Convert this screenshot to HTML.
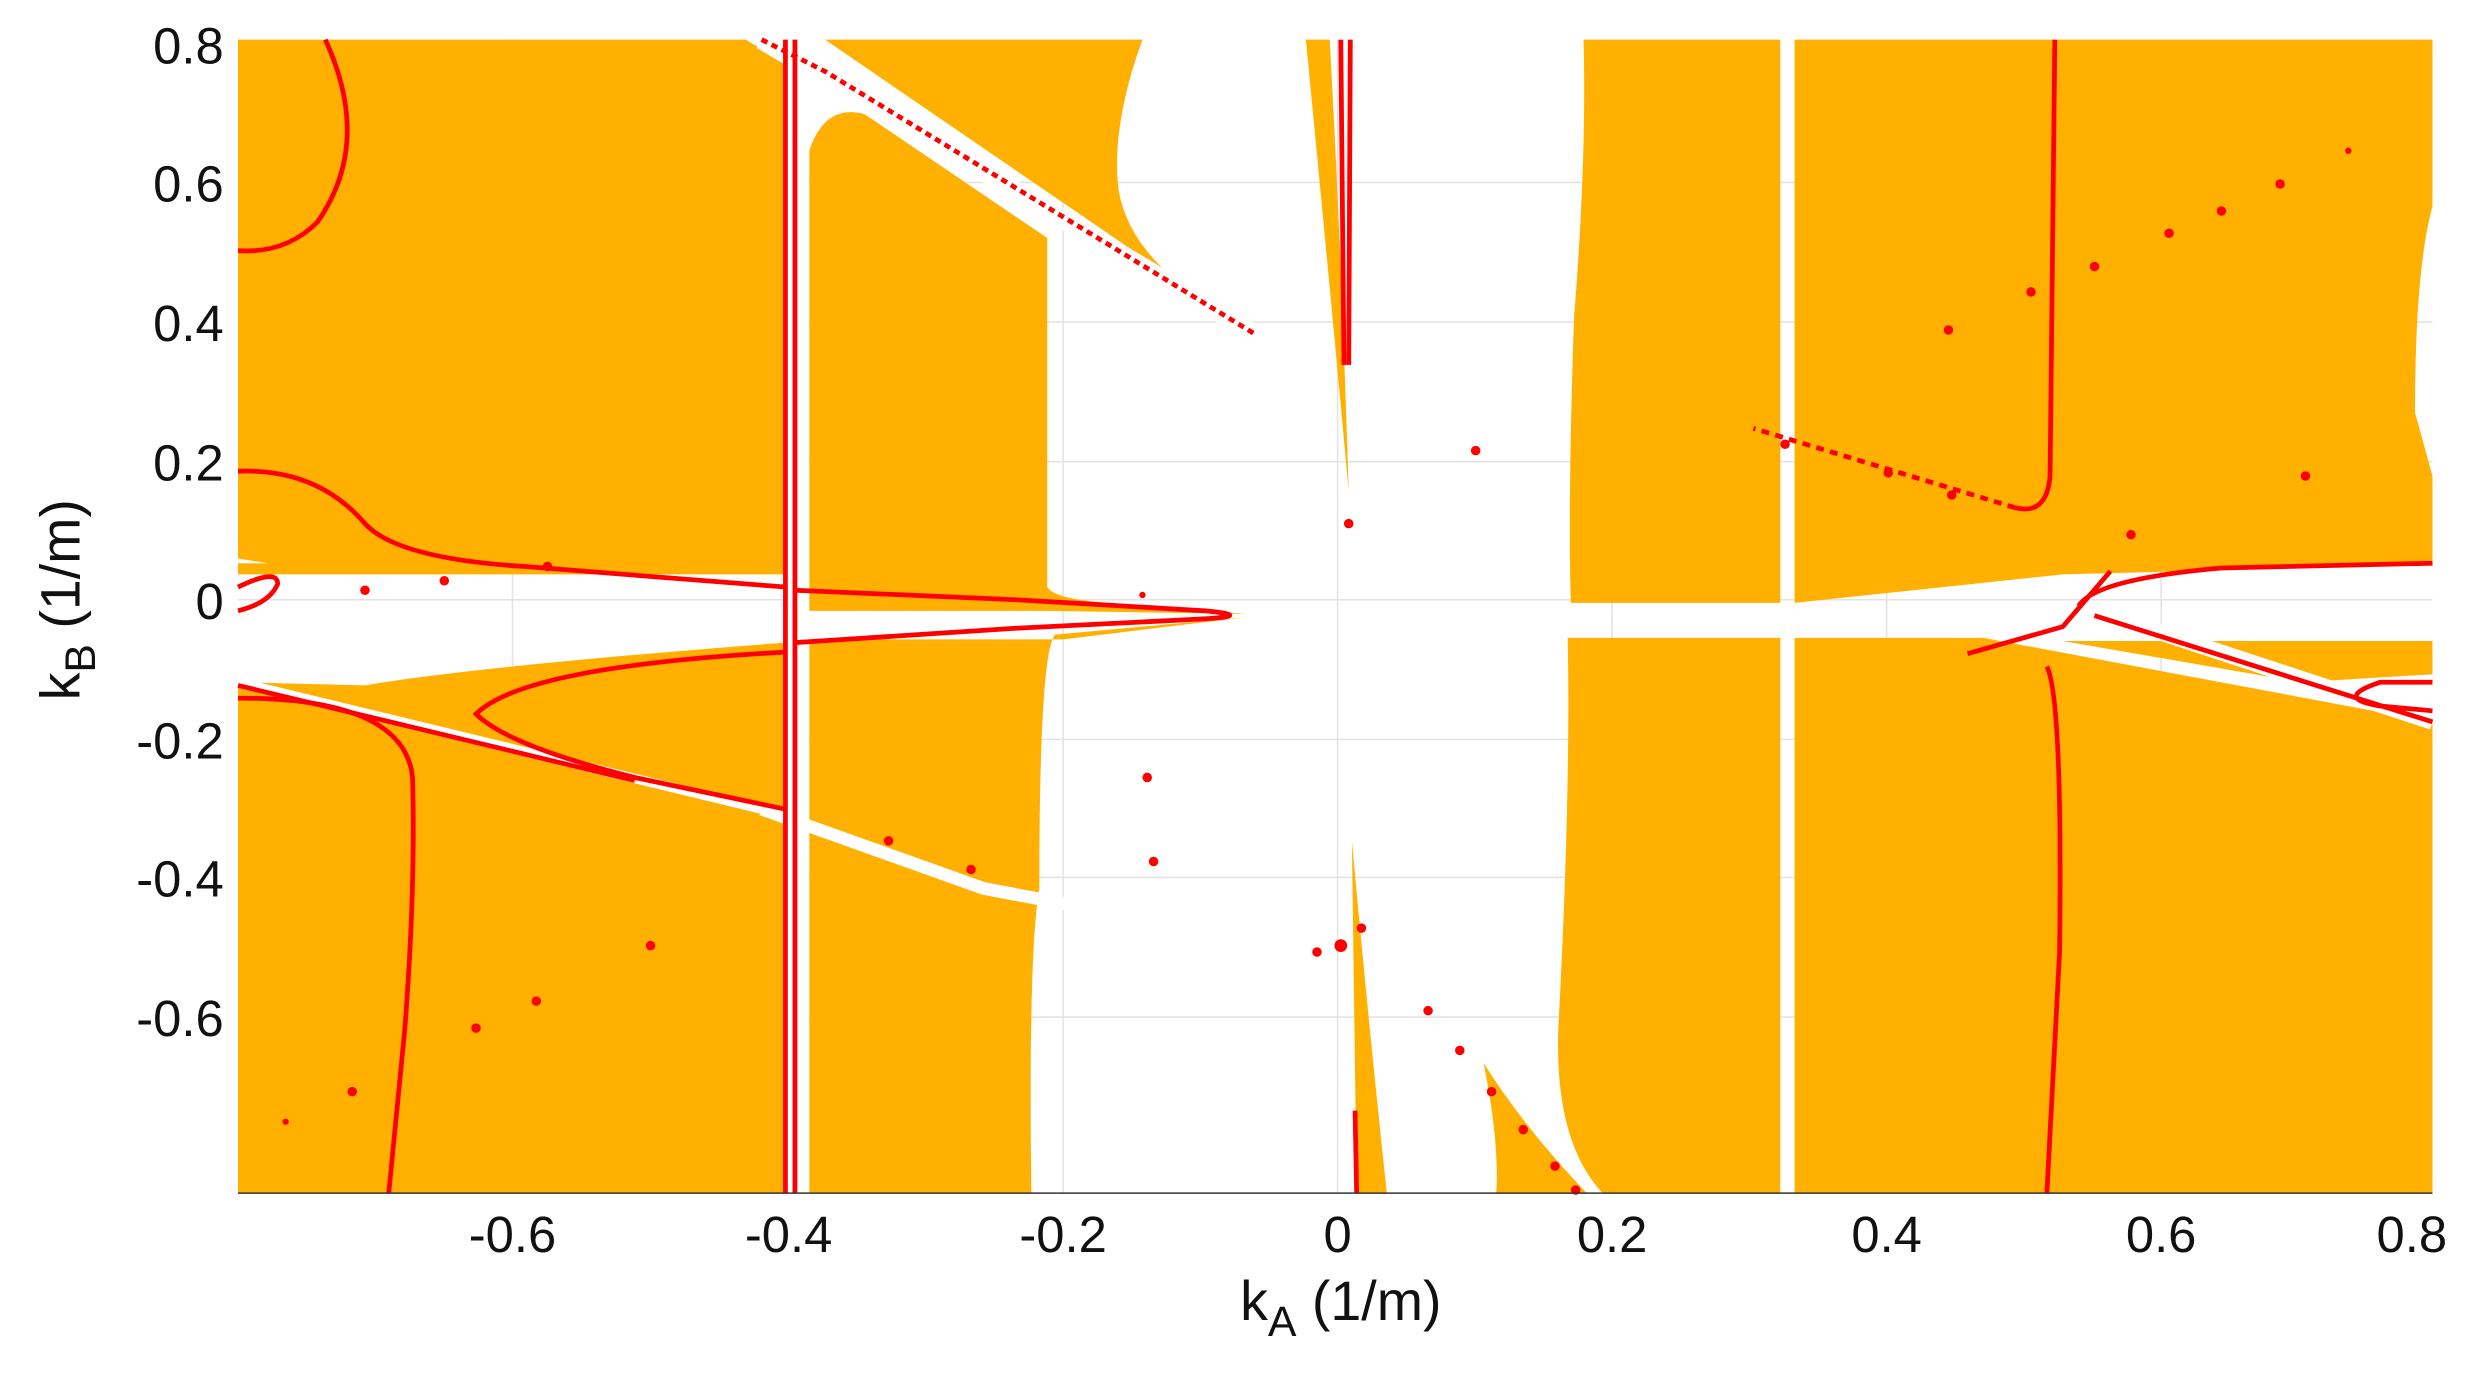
<!DOCTYPE html>
<html><head><style>html,body{margin:0;padding:0;background:#fff;}svg{display:block}</style></head>
<body>
<svg width="2488" height="1381" viewBox="0 0 1568 870.4" preserveAspectRatio="none" xmlns="http://www.w3.org/2000/svg" font-family="Liberation Sans, sans-serif">
<rect width="1568" height="871" fill="#fff"/>
<g stroke="#e3e3e3" stroke-width="1">
<line x1="323" y1="25" x2="323" y2="752"/><line x1="497" y1="25" x2="497" y2="752"/><line x1="670" y1="25" x2="670" y2="752"/><line x1="843" y1="25" x2="843" y2="752"/><line x1="1016" y1="25" x2="1016" y2="752"/><line x1="1189" y1="25" x2="1189" y2="752"/><line x1="1362" y1="25" x2="1362" y2="752"/>
<line x1="150" y1="115" x2="1533" y2="115"/><line x1="150" y1="203" x2="1533" y2="203"/><line x1="150" y1="291" x2="1533" y2="291"/><line x1="150" y1="378" x2="1533" y2="378"/><line x1="150" y1="466" x2="1533" y2="466"/><line x1="150" y1="553" x2="1533" y2="553"/><line x1="150" y1="641" x2="1533" y2="641"/>
</g>
<g fill="#FFB000">
<path d="M150,25 H470 L495,40 V358 L200,360 L150,352 Z"/>
<path d="M150,355 H495 V362 H150Z"/>
<path d="M520,25 H720 Q700,80 705,120 Q712,160 760,190 L790,210 Z"/>
<path d="M510,95 Q520,65 545,72 L660,150 V370 Q665,378 700,380 L785,387 L660,385 H510 Z"/>
<path d="M230,432 Q300,420 495,405 V752 H150 V430 Z"/>
<path d="M510,403 H670 L785,389 L665,400 Q655,410 655,560 Q648,600 650,752 H510 Z"/>
<path d="M823,25 H838 Q845,150 850,310 Q840,200 823,25Z"/>
<path d="M852,530 L855,752 H874 Q862,640 852,530Z"/>
<path d="M935,670 Q945,720 943,752 H1000 Q960,710 935,670Z"/>
<path d="M998,25 H1122 V380 H990 Q988,320 992,200 Q1000,100 998,25Z"/>
<path d="M1131,25 H1533 V130 Q1522,170 1522,260 L1533,300 V356 L1300,362 L1131,380Z"/>
<path d="M988,402 H1122 V752 H1010 Q980,720 982,650 Q990,500 988,402Z"/>
<path d="M1131,402 H1250 L1533,455 V752 H1131Z"/>
<path d="M1300,404 L1533,404 V425 L1450,430Z"/>
</g>
<g stroke="#fff" fill="none">
<line x1="480" y1="25" x2="790" y2="210" stroke-width="12"/>
<line x1="150" y1="430" x2="480" y2="510" stroke-width="6"/>
<path d="M480,510 L620,560 L790,592" stroke-width="8"/>
<line x1="1320" y1="385" x2="1533" y2="455" stroke-width="10"/>
</g>
<rect x="496" y="25" width="14" height="727" fill="#fff"/>
<g stroke="#ff0000" stroke-width="3" fill="none">
<line x1="495" y1="25" x2="495" y2="752"/><line x1="501" y1="25" x2="501" y2="752"/>
<path d="M205,25 Q235,90 200,140 Q180,160 150,158"/>
<path d="M150,297 Q200,295 230,330 Q250,352 330,357 L495,370"/>
<path d="M501,372 L640,378 L760,385 Q790,388 760,390 L640,396 L501,405"/>
<path d="M150,440 Q255,440 260,490 Q262,560 255,650 L245,752"/>
<path d="M495,411 Q330,420 300,450 Q320,470 400,490 L495,510"/>
<path d="M150,432 L400,492"/>
<path d="M480,25 L520,45 L790,210" stroke-dasharray="4,3"/>
<line x1="845" y1="25" x2="847" y2="230"/><line x1="851" y1="25" x2="850" y2="230"/>
<line x1="854" y1="700" x2="855" y2="752"/>
<path d="M1295,25 L1292,300 Q1290,325 1270,320"/>
<path d="M1270,320 L1105,270" stroke-dasharray="5,4"/>
<path d="M1310,382 Q1320,365 1400,358 L1533,355"/>
<path d="M1290,420 Q1300,440 1298,600 L1290,752"/>
<path d="M1320,388 L1533,455"/>
<path d="M1533,430 L1500,430 Q1470,440 1500,445 L1533,448"/>
<path d="M1240,412 L1300,395 L1330,360"/>
<path d="M150,370 Q175,358 175,368 Q170,380 150,385"/>
</g>
<g fill="#ff0000">
<circle cx="720" cy="375" r="2"/><circle cx="230" cy="372" r="3"/><circle cx="280" cy="366" r="3"/><circle cx="345" cy="357" r="3"/>
<circle cx="410" cy="596" r="3"/><circle cx="338" cy="631" r="3"/><circle cx="300" cy="648" r="3"/><circle cx="222" cy="688" r="3"/><circle cx="180" cy="707" r="2"/>
<circle cx="723" cy="490" r="3"/><circle cx="727" cy="543" r="3"/><circle cx="560" cy="530" r="3"/><circle cx="612" cy="548" r="3"/>
<circle cx="850" cy="330" r="3"/><circle cx="930" cy="284" r="3"/><circle cx="845" cy="596" r="4"/><circle cx="830" cy="600" r="3"/><circle cx="858" cy="585" r="3"/>
<circle cx="1228" cy="208" r="3"/><circle cx="1280" cy="184" r="3"/><circle cx="1320" cy="168" r="3"/><circle cx="1367" cy="147" r="3"/><circle cx="1400" cy="133" r="3"/><circle cx="1437" cy="116" r="3"/><circle cx="1480" cy="95" r="2"/>
<circle cx="1453" cy="300" r="3"/><circle cx="1343" cy="337" r="3"/><circle cx="1125" cy="280" r="3"/><circle cx="1190" cy="298" r="3"/><circle cx="1230" cy="312" r="3"/>
<circle cx="900" cy="637" r="3"/><circle cx="920" cy="662" r="3"/><circle cx="940" cy="688" r="3"/><circle cx="960" cy="712" r="3"/><circle cx="980" cy="735" r="3"/><circle cx="993" cy="750" r="3"/>
</g>
<line x1="150" y1="752" x2="1533" y2="752" stroke="#333" stroke-width="1"/>
<g font-size="32" fill="#111" text-anchor="end">
<text x="141" y="40">0.8</text><text x="141" y="127">0.6</text><text x="141" y="215">0.4</text><text x="141" y="303">0.2</text><text x="141" y="390">0</text><text x="141" y="478">-0.2</text><text x="141" y="565">-0.4</text><text x="141" y="653">-0.6</text>
</g>
<g font-size="32" fill="#111" text-anchor="middle">
<text x="323" y="789">-0.6</text><text x="497" y="789">-0.4</text><text x="670" y="789">-0.2</text><text x="843" y="789">0</text><text x="1016" y="789">0.2</text><text x="1189" y="789">0.4</text><text x="1362" y="789">0.6</text><text x="1520" y="789">0.8</text>
<text x="845" y="832" font-size="35">k<tspan font-size="27" dy="10">A</tspan><tspan dy="-10"> (1/m)</tspan></text>
</g>
<text transform="translate(50,378) rotate(-90)" font-size="35" fill="#111" text-anchor="middle">k<tspan font-size="27" dy="10">B</tspan><tspan dy="-10"> (1/m)</tspan></text>
</svg>
</body></html>
